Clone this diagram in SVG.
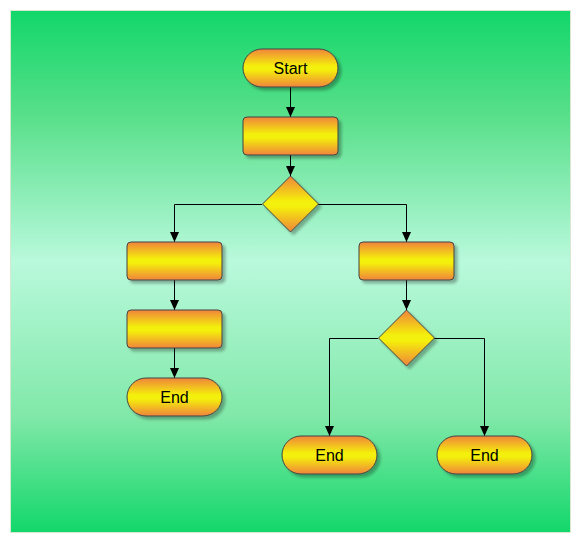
<svg xmlns="http://www.w3.org/2000/svg" width="580" height="542" viewBox="0 0 580 542">
<defs>
<linearGradient id="bg" x1="0" y1="0" x2="0" y2="1">
<stop offset="0" stop-color="#12d76a"/>
<stop offset="0.2" stop-color="#58df8a"/>
<stop offset="0.48" stop-color="#b9f9dc"/>
<stop offset="0.78" stop-color="#80e8a8"/>
<stop offset="1" stop-color="#12d76a"/>
</linearGradient>
<linearGradient id="fill" x1="0" y1="0" x2="0" y2="1">
<stop offset="0" stop-color="#f0843c"/>
<stop offset="0.45" stop-color="#f4f00a"/>
<stop offset="0.55" stop-color="#f4f00a"/>
<stop offset="1" stop-color="#f0843c"/>
</linearGradient>
<filter id="sh" x="-20%" y="-20%" width="150%" height="160%">
<feGaussianBlur in="SourceAlpha" stdDeviation="1.5"/>
<feOffset dx="3" dy="3" result="b"/>
<feComponentTransfer><feFuncA type="linear" slope="0.3"/></feComponentTransfer>
<feMerge><feMergeNode/><feMergeNode in="SourceGraphic"/></feMerge>
</filter>
<marker id="arr" viewBox="0 0 10 10" refX="10" refY="5" markerWidth="10" markerHeight="9" markerUnits="userSpaceOnUse" orient="auto" preserveAspectRatio="none">
<path d="M0,0 L10,5 L0,10 z" fill="#000"/>
</marker>
<style>
.n{fill:url(#fill);stroke:#444;stroke-width:1;filter:url(#sh)}
.t{font-family:"Liberation Sans",Arial,sans-serif;font-size:16px;fill:#000;text-anchor:middle}
.c{fill:none;stroke:#000;stroke-width:1;marker-end:url(#arr)}
</style>
</defs>
<rect x="10.5" y="10.5" width="560" height="522" fill="url(#bg)" stroke="#d8e8d0" stroke-width="1"/>
<g id="connectors">
<path class="c" d="M290.5,87 V117"/>
<path class="c" d="M290.5,155 V176"/>
<path class="c" d="M262,204.5 H174.5 V242"/>
<path class="c" d="M318,204.5 H406.5 V242"/>
<path class="c" d="M174.5,280 V310"/>
<path class="c" d="M174.5,348 V378"/>
<path class="c" d="M406.5,280 V310"/>
<path class="c" d="M378,338.5 H329.5 V436"/>
<path class="c" d="M434,338.5 H484.5 V436"/>
</g>
<g id="start"><rect class="n" x="243" y="49" width="95" height="38" rx="19"/><text class="t" x="290.5" y="73.5">Start</text></g>
<g id="process1"><rect class="n" x="243" y="117" width="95" height="38" rx="4"/></g>
<g id="decision1"><path class="n" d="M290.5,176 L318.5,204 L290.5,232 L262.5,204 Z" stroke-linejoin="round"/></g>
<g id="process2"><rect class="n" x="127" y="242" width="95" height="38" rx="4"/></g>
<g id="process3"><rect class="n" x="127" y="310" width="95" height="38" rx="4"/></g>
<g id="end1"><rect class="n" x="127" y="378" width="95" height="38" rx="19"/><text class="t" x="174.5" y="402.5">End</text></g>
<g id="process4"><rect class="n" x="359" y="242" width="95" height="38" rx="4"/></g>
<g id="decision2"><path class="n" d="M406.5,310 L434.5,338 L406.5,366 L378.5,338 Z" stroke-linejoin="round"/></g>
<g id="end2"><rect class="n" x="282" y="436" width="95" height="38" rx="19"/><text class="t" x="329.5" y="460.5">End</text></g>
<g id="end3"><rect class="n" x="437" y="436" width="95" height="38" rx="19"/><text class="t" x="484.5" y="460.5">End</text></g>
</svg>
